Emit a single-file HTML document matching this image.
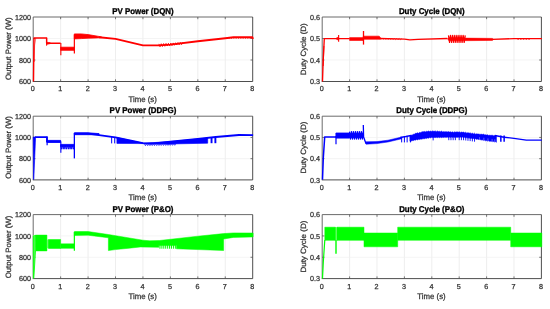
<!DOCTYPE html>
<html lang="en"><head><meta charset="utf-8"><title>PV Power and Duty Cycle</title>
<style>
html,body{margin:0;padding:0;background:#fff;}
body{width:550px;height:309px;overflow:hidden;font-family:"Liberation Sans",Arial,sans-serif;}
svg{display:block;}
</style></head><body>
<svg width="550" height="309" viewBox="0 0 550 309" font-family="Liberation Sans, Arial, Helvetica, sans-serif" text-rendering="geometricPrecision">
<g>
<line x1="60.64" y1="17" x2="60.64" y2="81.5" stroke="#e6e6e6" stroke-width="0.7"/>
<line x1="88.08" y1="17" x2="88.08" y2="81.5" stroke="#e6e6e6" stroke-width="0.7"/>
<line x1="115.51" y1="17" x2="115.51" y2="81.5" stroke="#e6e6e6" stroke-width="0.7"/>
<line x1="142.95" y1="17" x2="142.95" y2="81.5" stroke="#e6e6e6" stroke-width="0.7"/>
<line x1="170.39" y1="17" x2="170.39" y2="81.5" stroke="#e6e6e6" stroke-width="0.7"/>
<line x1="197.82" y1="17" x2="197.82" y2="81.5" stroke="#e6e6e6" stroke-width="0.7"/>
<line x1="225.26" y1="17" x2="225.26" y2="81.5" stroke="#e6e6e6" stroke-width="0.7"/>
<line x1="33.2" y1="60" x2="252.7" y2="60" stroke="#efefef" stroke-width="0.7"/>
<line x1="33.2" y1="38.5" x2="252.7" y2="38.5" stroke="#efefef" stroke-width="0.7"/>
<path d="M33.2 81.5V17H252.7" fill="none" stroke="#5a5a5a" stroke-width="0.9"/>
<path d="M32.8 81.5H252.7V17" fill="none" stroke="#3a3a3a" stroke-width="0.9"/>
<line x1="60.64" y1="81.5" x2="60.64" y2="79.3" stroke="#555" stroke-width="0.8"/>
<line x1="60.64" y1="17" x2="60.64" y2="19.2" stroke="#555" stroke-width="0.8"/>
<line x1="88.08" y1="81.5" x2="88.08" y2="79.3" stroke="#555" stroke-width="0.8"/>
<line x1="88.08" y1="17" x2="88.08" y2="19.2" stroke="#555" stroke-width="0.8"/>
<line x1="115.51" y1="81.5" x2="115.51" y2="79.3" stroke="#555" stroke-width="0.8"/>
<line x1="115.51" y1="17" x2="115.51" y2="19.2" stroke="#555" stroke-width="0.8"/>
<line x1="142.95" y1="81.5" x2="142.95" y2="79.3" stroke="#555" stroke-width="0.8"/>
<line x1="142.95" y1="17" x2="142.95" y2="19.2" stroke="#555" stroke-width="0.8"/>
<line x1="170.39" y1="81.5" x2="170.39" y2="79.3" stroke="#555" stroke-width="0.8"/>
<line x1="170.39" y1="17" x2="170.39" y2="19.2" stroke="#555" stroke-width="0.8"/>
<line x1="197.82" y1="81.5" x2="197.82" y2="79.3" stroke="#555" stroke-width="0.8"/>
<line x1="197.82" y1="17" x2="197.82" y2="19.2" stroke="#555" stroke-width="0.8"/>
<line x1="225.26" y1="81.5" x2="225.26" y2="79.3" stroke="#555" stroke-width="0.8"/>
<line x1="225.26" y1="17" x2="225.26" y2="19.2" stroke="#555" stroke-width="0.8"/>
<line x1="33.2" y1="60" x2="35.4" y2="60" stroke="#555" stroke-width="0.8"/>
<line x1="252.7" y1="60" x2="250.5" y2="60" stroke="#555" stroke-width="0.8"/>
<line x1="33.2" y1="38.5" x2="35.4" y2="38.5" stroke="#555" stroke-width="0.8"/>
<line x1="252.7" y1="38.5" x2="250.5" y2="38.5" stroke="#555" stroke-width="0.8"/>
<polyline points="33.5,81.5 34,38 46.62,38 46.62,43.2 60.64,43.2" fill="none" stroke="#ff0000" stroke-width="1.4" stroke-linejoin="round" stroke-linecap="butt"/>
<polygon points="46.72,42.2 50.21,42.6 50.21,43.8 46.72,44.4" fill="#ff0000" stroke="#ff0000" stroke-width="0.4" stroke-linejoin="round"/>
<polyline points="46.62,37.8 46.62,45.7" fill="none" stroke="#ff0000" stroke-width="1.0" stroke-linejoin="round" stroke-linecap="butt"/>
<polyline points="34.2,62 34.6,45 35.8,38.2" fill="none" stroke="#ff0000" stroke-width="0.6" stroke-linejoin="round" stroke-linecap="butt"/>
<polygon points="60.64,47.2 74.36,47.2 74.36,50.3 60.64,50.3" fill="#ff0000" stroke="#ff0000" stroke-width="0.8" stroke-linejoin="round"/>
<polyline points="60.84,43.1 60.84,55.2" fill="none" stroke="#ff0000" stroke-width="1.1" stroke-linejoin="round" stroke-linecap="butt"/>
<polyline points="74.36,53.6 74.36,34.5" fill="none" stroke="#ff0000" stroke-width="1.2" stroke-linejoin="round" stroke-linecap="butt"/>
<polygon points="74.36,33.9 81.22,33.9 88.08,34.6 97.68,36.2 101.79,37 101.79,37.6 97.68,37.9 88.08,38.2 81.22,38.6 74.36,38.9" fill="#ff0000" stroke="#ff0000" stroke-width="0.8" stroke-linejoin="round"/>
<polyline points="99.05,37.2 115.51,38.9 142.95,45.4 158.86,45.4 170.39,44.6 197.82,41.2 225.26,38.2 233.49,37.2 252.4,37.3 252.9,39" fill="none" stroke="#ff0000" stroke-width="1.9" stroke-linejoin="round" stroke-linecap="butt"/>
<polyline points="158.86,43.9 160.06,46.77 161.25,43.74 162.44,46.52 163.64,43.58 164.83,46.27 166.02,43.42 167.22,46.02 168.41,43.26 169.61,45.77 170.8,43.1 171.99,45.52 173.19,42.94 174.38,45.27 175.57,42.78 176.77,45.02 177.96,42.62 179.15,44.77 180.35,42.46 181.54,44.52 182.73,42.3" fill="none" stroke="#ff0000" stroke-width="0.9" stroke-linejoin="round"/>
<polyline points="228.01,37 229.17,38.6 230.34,37 231.5,38.6 232.67,37 233.84,38.6 235,37 236.17,38.6 237.33,37 238.5,38.6 239.67,37 240.83,38.6 242,37 243.17,38.6 244.33,37 245.5,38.6 246.66,37 247.83,38.6 249,37 250.16,38.6 251.33,37" fill="none" stroke="#ff0000" stroke-width="0.6" stroke-linejoin="round"/>
<text transform="translate(32.8,91.4) scale(1,1.0)" text-anchor="middle" font-size="7.2" fill="#333" stroke="#333" stroke-width="0.25">0</text>
<text transform="translate(60.24,91.4) scale(1,1.0)" text-anchor="middle" font-size="7.2" fill="#333" stroke="#333" stroke-width="0.25">1</text>
<text transform="translate(87.67,91.4) scale(1,1.0)" text-anchor="middle" font-size="7.2" fill="#333" stroke="#333" stroke-width="0.25">2</text>
<text transform="translate(115.11,91.4) scale(1,1.0)" text-anchor="middle" font-size="7.2" fill="#333" stroke="#333" stroke-width="0.25">3</text>
<text transform="translate(142.55,91.4) scale(1,1.0)" text-anchor="middle" font-size="7.2" fill="#333" stroke="#333" stroke-width="0.25">4</text>
<text transform="translate(169.99,91.4) scale(1,1.0)" text-anchor="middle" font-size="7.2" fill="#333" stroke="#333" stroke-width="0.25">5</text>
<text transform="translate(197.42,91.4) scale(1,1.0)" text-anchor="middle" font-size="7.2" fill="#333" stroke="#333" stroke-width="0.25">6</text>
<text transform="translate(224.86,91.4) scale(1,1.0)" text-anchor="middle" font-size="7.2" fill="#333" stroke="#333" stroke-width="0.25">7</text>
<text transform="translate(252.3,91.4) scale(1,1.0)" text-anchor="middle" font-size="7.2" fill="#333" stroke="#333" stroke-width="0.25">8</text>
<text transform="translate(31,84.1) scale(1,1.0)" text-anchor="end" font-size="7.2" fill="#333" stroke="#333" stroke-width="0.25">600</text>
<text transform="translate(31,62.6) scale(1,1.0)" text-anchor="end" font-size="7.2" fill="#333" stroke="#333" stroke-width="0.25">800</text>
<text transform="translate(31,41.1) scale(1,1.0)" text-anchor="end" font-size="7.2" fill="#333" stroke="#333" stroke-width="0.25">1000</text>
<text transform="translate(31,19.6) scale(1,1.0)" text-anchor="end" font-size="7.2" fill="#333" stroke="#333" stroke-width="0.25">1200</text>
<text transform="translate(142.65,101.95) scale(1,1.03)" text-anchor="middle" font-size="7.8" fill="#333" stroke="#333" stroke-width="0.25">Time (s)</text>
<text transform="translate(142.95,13.9) scale(1,1.07)" text-anchor="middle" font-size="7.9" font-weight="bold" fill="#000" stroke="#000" stroke-width="0.3">PV Power (DQN)</text>
<text transform="translate(10.9,48.65) scale(1,1.02) rotate(-90)" text-anchor="middle" font-size="7.7" fill="#333" stroke="#333" stroke-width="0.25">Output Power (W)</text>
</g>
<g>
<line x1="349.6" y1="17" x2="349.6" y2="81.5" stroke="#e6e6e6" stroke-width="0.7"/>
<line x1="377" y1="17" x2="377" y2="81.5" stroke="#e6e6e6" stroke-width="0.7"/>
<line x1="404.4" y1="17" x2="404.4" y2="81.5" stroke="#e6e6e6" stroke-width="0.7"/>
<line x1="431.8" y1="17" x2="431.8" y2="81.5" stroke="#e6e6e6" stroke-width="0.7"/>
<line x1="459.2" y1="17" x2="459.2" y2="81.5" stroke="#e6e6e6" stroke-width="0.7"/>
<line x1="486.6" y1="17" x2="486.6" y2="81.5" stroke="#e6e6e6" stroke-width="0.7"/>
<line x1="514" y1="17" x2="514" y2="81.5" stroke="#e6e6e6" stroke-width="0.7"/>
<line x1="322.2" y1="60" x2="541.4" y2="60" stroke="#efefef" stroke-width="0.7"/>
<line x1="322.2" y1="38.5" x2="541.4" y2="38.5" stroke="#efefef" stroke-width="0.7"/>
<path d="M322.2 81.5V17H541.4" fill="none" stroke="#5a5a5a" stroke-width="0.9"/>
<path d="M321.8 81.5H541.4V17" fill="none" stroke="#3a3a3a" stroke-width="0.9"/>
<line x1="349.6" y1="81.5" x2="349.6" y2="79.3" stroke="#555" stroke-width="0.8"/>
<line x1="349.6" y1="17" x2="349.6" y2="19.2" stroke="#555" stroke-width="0.8"/>
<line x1="377" y1="81.5" x2="377" y2="79.3" stroke="#555" stroke-width="0.8"/>
<line x1="377" y1="17" x2="377" y2="19.2" stroke="#555" stroke-width="0.8"/>
<line x1="404.4" y1="81.5" x2="404.4" y2="79.3" stroke="#555" stroke-width="0.8"/>
<line x1="404.4" y1="17" x2="404.4" y2="19.2" stroke="#555" stroke-width="0.8"/>
<line x1="431.8" y1="81.5" x2="431.8" y2="79.3" stroke="#555" stroke-width="0.8"/>
<line x1="431.8" y1="17" x2="431.8" y2="19.2" stroke="#555" stroke-width="0.8"/>
<line x1="459.2" y1="81.5" x2="459.2" y2="79.3" stroke="#555" stroke-width="0.8"/>
<line x1="459.2" y1="17" x2="459.2" y2="19.2" stroke="#555" stroke-width="0.8"/>
<line x1="486.6" y1="81.5" x2="486.6" y2="79.3" stroke="#555" stroke-width="0.8"/>
<line x1="486.6" y1="17" x2="486.6" y2="19.2" stroke="#555" stroke-width="0.8"/>
<line x1="514" y1="81.5" x2="514" y2="79.3" stroke="#555" stroke-width="0.8"/>
<line x1="514" y1="17" x2="514" y2="19.2" stroke="#555" stroke-width="0.8"/>
<line x1="322.2" y1="60" x2="324.4" y2="60" stroke="#555" stroke-width="0.8"/>
<line x1="541.4" y1="60" x2="539.2" y2="60" stroke="#555" stroke-width="0.8"/>
<line x1="322.2" y1="38.5" x2="324.4" y2="38.5" stroke="#555" stroke-width="0.8"/>
<line x1="541.4" y1="38.5" x2="539.2" y2="38.5" stroke="#555" stroke-width="0.8"/>
<polyline points="322.5,81.5 323.2,60 324.3,38.6 349.6,38.6" fill="none" stroke="#ff0000" stroke-width="1.35" stroke-linejoin="round" stroke-linecap="butt"/>
<polyline points="323.2,66 323.9,46" fill="none" stroke="#ff0000" stroke-width="0.9" stroke-linejoin="round" stroke-linecap="butt"/>
<polyline points="338.64,34.9 338.64,41.7" fill="none" stroke="#ff0000" stroke-width="1.1" stroke-linejoin="round" stroke-linecap="butt"/>
<polygon points="336.72,37.6 338.64,37.2 338.64,40 336.72,39.6" fill="#ff0000" stroke="#ff0000" stroke-width="0.5" stroke-linejoin="round"/>
<polygon points="349.6,37.6 363.3,37.6 363.3,40.5 349.6,40.5" fill="#ff0000" stroke="#ff0000" stroke-width="0.6" stroke-linejoin="round"/>
<polyline points="363.5,31 363.5,44.6" fill="none" stroke="#ff0000" stroke-width="1.3" stroke-linejoin="round" stroke-linecap="butt"/>
<polygon points="363.3,36.2 379.19,36.2 380.29,37.6 380.29,39.2 379.19,39.2 363.3,39.2" fill="#ff0000" stroke="#ff0000" stroke-width="0.7" stroke-linejoin="round"/>
<polyline points="379.74,38.5 404.4,39.2 409.88,39.8 418.1,39.4 447.42,38.5" fill="none" stroke="#ff0000" stroke-width="1.3" stroke-linejoin="round" stroke-linecap="butt"/>
<polyline points="379.74,38 380.96,39.33 382.18,38.07 383.39,39.38 384.61,38.13 385.83,39.44 387.05,38.2 388.26,39.49 389.48,38.27 390.7,39.55 391.92,38.33 393.14,39.61 394.35,38.4 395.57,39.66 396.79,38.47 398.01,39.72 399.22,38.53 400.44,39.77 401.66,38.6" fill="none" stroke="#ff0000" stroke-width="0.6" stroke-linejoin="round"/>
<polyline points="448.51,35.3 449.56,42.3 450.6,35.3 451.65,42.3 452.69,35.3 453.74,42.3 454.78,35.3 455.83,42.3 456.87,35.3 457.92,42.3 458.96,35.3 460,42.3 461.05,35.3 462.09,42.3 463.14,35.3 464.18,42.3 465.23,35.3" fill="none" stroke="#ff0000" stroke-width="1.3" stroke-linejoin="round"/>
<polygon points="448.51,37.9 465.23,37.9 465.23,40.4 448.51,40.4" fill="#ff0000" stroke="#ff0000" stroke-width="0.4" stroke-linejoin="round"/>
<polygon points="465.23,38.1 492.63,38.4 492.63,40.4 465.23,40.7" fill="#ff0000" stroke="#ff0000" stroke-width="0.5" stroke-linejoin="round"/>
<polyline points="447.42,38.8 492.63,39.4 514,38.6 541.8,38.6" fill="none" stroke="#ff0000" stroke-width="1.3" stroke-linejoin="round" stroke-linecap="butt"/>
<polyline points="516.74,38.3 518.11,39.8 519.48,38.3 520.85,39.8 522.22,38.3 523.59,39.8 524.96,38.3 526.33,39.8 527.7,38.3 529.07,39.8 530.44,38.3" fill="none" stroke="#ff0000" stroke-width="0.6" stroke-linejoin="round"/>
<text transform="translate(321.8,91.4) scale(1,1.0)" text-anchor="middle" font-size="7.2" fill="#333" stroke="#333" stroke-width="0.25">0</text>
<text transform="translate(349.2,91.4) scale(1,1.0)" text-anchor="middle" font-size="7.2" fill="#333" stroke="#333" stroke-width="0.25">1</text>
<text transform="translate(376.6,91.4) scale(1,1.0)" text-anchor="middle" font-size="7.2" fill="#333" stroke="#333" stroke-width="0.25">2</text>
<text transform="translate(404,91.4) scale(1,1.0)" text-anchor="middle" font-size="7.2" fill="#333" stroke="#333" stroke-width="0.25">3</text>
<text transform="translate(431.4,91.4) scale(1,1.0)" text-anchor="middle" font-size="7.2" fill="#333" stroke="#333" stroke-width="0.25">4</text>
<text transform="translate(458.8,91.4) scale(1,1.0)" text-anchor="middle" font-size="7.2" fill="#333" stroke="#333" stroke-width="0.25">5</text>
<text transform="translate(486.2,91.4) scale(1,1.0)" text-anchor="middle" font-size="7.2" fill="#333" stroke="#333" stroke-width="0.25">6</text>
<text transform="translate(513.6,91.4) scale(1,1.0)" text-anchor="middle" font-size="7.2" fill="#333" stroke="#333" stroke-width="0.25">7</text>
<text transform="translate(541,91.4) scale(1,1.0)" text-anchor="middle" font-size="7.2" fill="#333" stroke="#333" stroke-width="0.25">8</text>
<text transform="translate(320,84.1) scale(1,1.0)" text-anchor="end" font-size="7.2" fill="#333" stroke="#333" stroke-width="0.25">0.3</text>
<text transform="translate(320,62.6) scale(1,1.0)" text-anchor="end" font-size="7.2" fill="#333" stroke="#333" stroke-width="0.25">0.4</text>
<text transform="translate(320,41.1) scale(1,1.0)" text-anchor="end" font-size="7.2" fill="#333" stroke="#333" stroke-width="0.25">0.5</text>
<text transform="translate(320,19.6) scale(1,1.0)" text-anchor="end" font-size="7.2" fill="#333" stroke="#333" stroke-width="0.25">0.6</text>
<text transform="translate(431.5,101.95) scale(1,1.03)" text-anchor="middle" font-size="7.8" fill="#333" stroke="#333" stroke-width="0.25">Time (s)</text>
<text transform="translate(431.8,13.9) scale(1,1.07)" text-anchor="middle" font-size="7.9" font-weight="bold" fill="#000" stroke="#000" stroke-width="0.3">Duty Cycle (DQN)</text>
<text transform="translate(306.1,49.25) scale(1,1.04) rotate(-90)" text-anchor="middle" font-size="7.7" fill="#333" stroke="#333" stroke-width="0.25">Duty Cycle (D)</text>
</g>
<g>
<line x1="60.64" y1="116.2" x2="60.64" y2="179.9" stroke="#e6e6e6" stroke-width="0.7"/>
<line x1="88.08" y1="116.2" x2="88.08" y2="179.9" stroke="#e6e6e6" stroke-width="0.7"/>
<line x1="115.51" y1="116.2" x2="115.51" y2="179.9" stroke="#e6e6e6" stroke-width="0.7"/>
<line x1="142.95" y1="116.2" x2="142.95" y2="179.9" stroke="#e6e6e6" stroke-width="0.7"/>
<line x1="170.39" y1="116.2" x2="170.39" y2="179.9" stroke="#e6e6e6" stroke-width="0.7"/>
<line x1="197.82" y1="116.2" x2="197.82" y2="179.9" stroke="#e6e6e6" stroke-width="0.7"/>
<line x1="225.26" y1="116.2" x2="225.26" y2="179.9" stroke="#e6e6e6" stroke-width="0.7"/>
<line x1="33.2" y1="158.67" x2="252.7" y2="158.67" stroke="#efefef" stroke-width="0.7"/>
<line x1="33.2" y1="137.43" x2="252.7" y2="137.43" stroke="#efefef" stroke-width="0.7"/>
<path d="M33.2 179.9V116.2H252.7" fill="none" stroke="#5a5a5a" stroke-width="0.9"/>
<path d="M32.8 179.9H252.7V116.2" fill="none" stroke="#3a3a3a" stroke-width="0.9"/>
<line x1="60.64" y1="179.9" x2="60.64" y2="177.7" stroke="#555" stroke-width="0.8"/>
<line x1="60.64" y1="116.2" x2="60.64" y2="118.4" stroke="#555" stroke-width="0.8"/>
<line x1="88.08" y1="179.9" x2="88.08" y2="177.7" stroke="#555" stroke-width="0.8"/>
<line x1="88.08" y1="116.2" x2="88.08" y2="118.4" stroke="#555" stroke-width="0.8"/>
<line x1="115.51" y1="179.9" x2="115.51" y2="177.7" stroke="#555" stroke-width="0.8"/>
<line x1="115.51" y1="116.2" x2="115.51" y2="118.4" stroke="#555" stroke-width="0.8"/>
<line x1="142.95" y1="179.9" x2="142.95" y2="177.7" stroke="#555" stroke-width="0.8"/>
<line x1="142.95" y1="116.2" x2="142.95" y2="118.4" stroke="#555" stroke-width="0.8"/>
<line x1="170.39" y1="179.9" x2="170.39" y2="177.7" stroke="#555" stroke-width="0.8"/>
<line x1="170.39" y1="116.2" x2="170.39" y2="118.4" stroke="#555" stroke-width="0.8"/>
<line x1="197.82" y1="179.9" x2="197.82" y2="177.7" stroke="#555" stroke-width="0.8"/>
<line x1="197.82" y1="116.2" x2="197.82" y2="118.4" stroke="#555" stroke-width="0.8"/>
<line x1="225.26" y1="179.9" x2="225.26" y2="177.7" stroke="#555" stroke-width="0.8"/>
<line x1="225.26" y1="116.2" x2="225.26" y2="118.4" stroke="#555" stroke-width="0.8"/>
<line x1="33.2" y1="158.67" x2="35.4" y2="158.67" stroke="#555" stroke-width="0.8"/>
<line x1="252.7" y1="158.67" x2="250.5" y2="158.67" stroke="#555" stroke-width="0.8"/>
<line x1="33.2" y1="137.43" x2="35.4" y2="137.43" stroke="#555" stroke-width="0.8"/>
<line x1="252.7" y1="137.43" x2="250.5" y2="137.43" stroke="#555" stroke-width="0.8"/>
<polyline points="35,137.2 46.92,137.2 46.92,141.5 60.64,141.5" fill="none" stroke="#0000ff" stroke-width="1.7" stroke-linejoin="round" stroke-linecap="butt"/>
<polygon points="33.2,137 35.6,137 33.8,179.4 33.6,179.4" fill="#0000ff" stroke="#0000ff" stroke-width="0.6" stroke-linejoin="round"/>
<polygon points="46.92,140.4 60.64,140.4 60.64,142.5 46.92,142.5" fill="#0000ff" stroke="#0000ff" stroke-width="0.8" stroke-linejoin="round"/>
<polyline points="47.12,136.5 47.12,145.3" fill="none" stroke="#0000ff" stroke-width="1.2" stroke-linejoin="round" stroke-linecap="butt"/>
<polygon points="60.64,144.4 74.36,144.4 74.36,146.6 60.64,146.6" fill="#0000ff" stroke="#0000ff" stroke-width="0.8" stroke-linejoin="round"/>
<polyline points="60.64,145 61.49,149.2 62.35,145 63.21,149.2 64.07,145 64.92,149.2 65.78,145 66.64,149.2 67.5,145 68.35,149.2 69.21,145 70.07,149.2 70.93,145 71.78,149.2 72.64,145 73.5,149.2 74.36,145" fill="none" stroke="#0000ff" stroke-width="0.9" stroke-linejoin="round"/>
<polyline points="60.84,141.5 60.84,152.8" fill="none" stroke="#0000ff" stroke-width="1.1" stroke-linejoin="round" stroke-linecap="butt"/>
<polyline points="74.36,158.4 74.36,133" fill="none" stroke="#0000ff" stroke-width="1.3" stroke-linejoin="round" stroke-linecap="butt"/>
<polygon points="74.36,132.8 88.08,132.8 99.05,133.6 99.05,134.8 88.08,134.7 74.36,134.7" fill="#0000ff" stroke="#0000ff" stroke-width="0.8" stroke-linejoin="round"/>
<polyline points="74.36,133.6 88.08,133.6 115.51,137.3 142.95,143.2 153.93,143.4 170.39,141.6 197.82,138.9 215.66,137 238.98,135 253.1,135.2" fill="none" stroke="#0000ff" stroke-width="1.8" stroke-linejoin="round" stroke-linecap="butt"/>
<polyline points="111.67,137 111.67,143.4" fill="none" stroke="#0000ff" stroke-width="1.0" stroke-linejoin="round" stroke-linecap="butt"/>
<polyline points="114.69,137 114.69,143.4" fill="none" stroke="#0000ff" stroke-width="1.0" stroke-linejoin="round" stroke-linecap="butt"/>
<polygon points="116.88,137.6 142.95,143.2 142.95,143.6 116.88,143.4" fill="#0000ff" stroke="#0000ff" stroke-width="0.6" stroke-linejoin="round"/>
<polygon points="142.95,143.2 170.39,141.6 207.7,138 207.7,143.2 170.39,144 142.95,143.8" fill="#0000ff" stroke="#0000ff" stroke-width="0.6" stroke-linejoin="round"/>
<polyline points="144.32,143.6 145.45,145.69 146.58,143.6 147.7,145.66 148.83,143.6 149.96,145.63 151.08,143.6 152.21,145.6 153.34,143.6 154.46,145.57 155.59,143.6 156.72,145.54 157.84,143.6 158.97,145.51 160.1,143.6 161.23,145.49 162.35,143.6 163.48,145.46 164.61,143.6 165.73,145.43 166.86,143.6 167.99,145.4 169.11,143.6 170.24,145.37 171.37,143.6 172.49,145.34 173.62,143.6 174.75,145.31 175.88,143.6" fill="none" stroke="#0000ff" stroke-width="0.7" stroke-linejoin="round"/>
<polyline points="211.54,137.6 211.54,143.2" fill="none" stroke="#0000ff" stroke-width="1.9" stroke-linejoin="round" stroke-linecap="butt"/>
<polyline points="215.38,137.6 215.38,143.2" fill="none" stroke="#0000ff" stroke-width="1.9" stroke-linejoin="round" stroke-linecap="butt"/>
<text transform="translate(32.8,189.8) scale(1,1.0)" text-anchor="middle" font-size="7.2" fill="#333" stroke="#333" stroke-width="0.25">0</text>
<text transform="translate(60.24,189.8) scale(1,1.0)" text-anchor="middle" font-size="7.2" fill="#333" stroke="#333" stroke-width="0.25">1</text>
<text transform="translate(87.67,189.8) scale(1,1.0)" text-anchor="middle" font-size="7.2" fill="#333" stroke="#333" stroke-width="0.25">2</text>
<text transform="translate(115.11,189.8) scale(1,1.0)" text-anchor="middle" font-size="7.2" fill="#333" stroke="#333" stroke-width="0.25">3</text>
<text transform="translate(142.55,189.8) scale(1,1.0)" text-anchor="middle" font-size="7.2" fill="#333" stroke="#333" stroke-width="0.25">4</text>
<text transform="translate(169.99,189.8) scale(1,1.0)" text-anchor="middle" font-size="7.2" fill="#333" stroke="#333" stroke-width="0.25">5</text>
<text transform="translate(197.42,189.8) scale(1,1.0)" text-anchor="middle" font-size="7.2" fill="#333" stroke="#333" stroke-width="0.25">6</text>
<text transform="translate(224.86,189.8) scale(1,1.0)" text-anchor="middle" font-size="7.2" fill="#333" stroke="#333" stroke-width="0.25">7</text>
<text transform="translate(252.3,189.8) scale(1,1.0)" text-anchor="middle" font-size="7.2" fill="#333" stroke="#333" stroke-width="0.25">8</text>
<text transform="translate(31,182.5) scale(1,1.0)" text-anchor="end" font-size="7.2" fill="#333" stroke="#333" stroke-width="0.25">600</text>
<text transform="translate(31,161.27) scale(1,1.0)" text-anchor="end" font-size="7.2" fill="#333" stroke="#333" stroke-width="0.25">800</text>
<text transform="translate(31,140.03) scale(1,1.0)" text-anchor="end" font-size="7.2" fill="#333" stroke="#333" stroke-width="0.25">1000</text>
<text transform="translate(31,118.8) scale(1,1.0)" text-anchor="end" font-size="7.2" fill="#333" stroke="#333" stroke-width="0.25">1200</text>
<text transform="translate(142.65,200.35) scale(1,1.03)" text-anchor="middle" font-size="7.8" fill="#333" stroke="#333" stroke-width="0.25">Time (s)</text>
<text transform="translate(142.95,113.1) scale(1,1.07)" text-anchor="middle" font-size="7.9" font-weight="bold" fill="#000" stroke="#000" stroke-width="0.3">PV Power (DDPG)</text>
<text transform="translate(10.9,147.45) scale(1,1.02) rotate(-90)" text-anchor="middle" font-size="7.7" fill="#333" stroke="#333" stroke-width="0.25">Output Power (W)</text>
</g>
<g>
<line x1="349.6" y1="116.2" x2="349.6" y2="179.9" stroke="#e6e6e6" stroke-width="0.7"/>
<line x1="377" y1="116.2" x2="377" y2="179.9" stroke="#e6e6e6" stroke-width="0.7"/>
<line x1="404.4" y1="116.2" x2="404.4" y2="179.9" stroke="#e6e6e6" stroke-width="0.7"/>
<line x1="431.8" y1="116.2" x2="431.8" y2="179.9" stroke="#e6e6e6" stroke-width="0.7"/>
<line x1="459.2" y1="116.2" x2="459.2" y2="179.9" stroke="#e6e6e6" stroke-width="0.7"/>
<line x1="486.6" y1="116.2" x2="486.6" y2="179.9" stroke="#e6e6e6" stroke-width="0.7"/>
<line x1="514" y1="116.2" x2="514" y2="179.9" stroke="#e6e6e6" stroke-width="0.7"/>
<line x1="322.2" y1="158.67" x2="541.4" y2="158.67" stroke="#efefef" stroke-width="0.7"/>
<line x1="322.2" y1="137.43" x2="541.4" y2="137.43" stroke="#efefef" stroke-width="0.7"/>
<path d="M322.2 179.9V116.2H541.4" fill="none" stroke="#5a5a5a" stroke-width="0.9"/>
<path d="M321.8 179.9H541.4V116.2" fill="none" stroke="#3a3a3a" stroke-width="0.9"/>
<line x1="349.6" y1="179.9" x2="349.6" y2="177.7" stroke="#555" stroke-width="0.8"/>
<line x1="349.6" y1="116.2" x2="349.6" y2="118.4" stroke="#555" stroke-width="0.8"/>
<line x1="377" y1="179.9" x2="377" y2="177.7" stroke="#555" stroke-width="0.8"/>
<line x1="377" y1="116.2" x2="377" y2="118.4" stroke="#555" stroke-width="0.8"/>
<line x1="404.4" y1="179.9" x2="404.4" y2="177.7" stroke="#555" stroke-width="0.8"/>
<line x1="404.4" y1="116.2" x2="404.4" y2="118.4" stroke="#555" stroke-width="0.8"/>
<line x1="431.8" y1="179.9" x2="431.8" y2="177.7" stroke="#555" stroke-width="0.8"/>
<line x1="431.8" y1="116.2" x2="431.8" y2="118.4" stroke="#555" stroke-width="0.8"/>
<line x1="459.2" y1="179.9" x2="459.2" y2="177.7" stroke="#555" stroke-width="0.8"/>
<line x1="459.2" y1="116.2" x2="459.2" y2="118.4" stroke="#555" stroke-width="0.8"/>
<line x1="486.6" y1="179.9" x2="486.6" y2="177.7" stroke="#555" stroke-width="0.8"/>
<line x1="486.6" y1="116.2" x2="486.6" y2="118.4" stroke="#555" stroke-width="0.8"/>
<line x1="514" y1="179.9" x2="514" y2="177.7" stroke="#555" stroke-width="0.8"/>
<line x1="514" y1="116.2" x2="514" y2="118.4" stroke="#555" stroke-width="0.8"/>
<line x1="322.2" y1="158.67" x2="324.4" y2="158.67" stroke="#555" stroke-width="0.8"/>
<line x1="541.4" y1="158.67" x2="539.2" y2="158.67" stroke="#555" stroke-width="0.8"/>
<line x1="322.2" y1="137.43" x2="324.4" y2="137.43" stroke="#555" stroke-width="0.8"/>
<line x1="541.4" y1="137.43" x2="539.2" y2="137.43" stroke="#555" stroke-width="0.8"/>
<polyline points="322.5,179.6 323.3,158 324.7,136.9 335.9,136.9" fill="none" stroke="#0000ff" stroke-width="1.5" stroke-linejoin="round" stroke-linecap="butt"/>
<polyline points="336,136 336,144.2" fill="none" stroke="#0000ff" stroke-width="1.2" stroke-linejoin="round" stroke-linecap="butt"/>
<polygon points="335.9,133 349.6,133 349.6,138.1 335.9,138.1" fill="#0000ff" stroke="#0000ff" stroke-width="0.8" stroke-linejoin="round"/>
<polygon points="349.6,133.6 363.3,133.6 363.3,137.6 349.6,137.6" fill="#0000ff" stroke="#0000ff" stroke-width="0.8" stroke-linejoin="round"/>
<polyline points="349.6,131.6 350.58,139 351.56,131.6 352.54,139 353.51,131.6 354.49,139 355.47,131.6 356.45,139 357.43,131.6 358.41,139 359.39,131.6 360.36,139 361.34,131.6 362.32,139 363.3,131.6" fill="none" stroke="#0000ff" stroke-width="1.3" stroke-linejoin="round"/>
<polyline points="363.3,125.1 363.6,137 366.04,143.7" fill="none" stroke="#0000ff" stroke-width="1.3" stroke-linejoin="round" stroke-linecap="butt"/>
<polygon points="366.04,141.8 377,141.6 387.96,140.2 401.66,137 401.66,138.8 387.96,142 377,143.6 366.04,144.2" fill="#0000ff" stroke="#0000ff" stroke-width="0.5" stroke-linejoin="round"/>
<polyline points="400.29,137.4 405.77,136.6 411.25,135.4" fill="none" stroke="#0000ff" stroke-width="1.5" stroke-linejoin="round" stroke-linecap="butt"/>
<polyline points="401.66,137 401.66,142.4" fill="none" stroke="#0000ff" stroke-width="1.0" stroke-linejoin="round" stroke-linecap="butt"/>
<polyline points="404.4,137 404.4,142.4" fill="none" stroke="#0000ff" stroke-width="1.0" stroke-linejoin="round" stroke-linecap="butt"/>
<polyline points="407.14,137 407.14,142.4" fill="none" stroke="#0000ff" stroke-width="1.0" stroke-linejoin="round" stroke-linecap="butt"/>
<polyline points="410.43,137 410.43,142.4" fill="none" stroke="#0000ff" stroke-width="1.0" stroke-linejoin="round" stroke-linecap="butt"/>
<polygon points="409.88,136.05 410.98,135.06 412.07,135.24 413.17,134.26 414.26,134.34 415.36,133.37 416.46,133.37 417.55,132.71 418.65,133.26 419.74,132.3 420.84,132.76 421.94,131.61 423.03,132.11 424.13,131.26 425.22,131.9 426.32,131.23 427.42,131.53 428.51,130.93 429.61,131.47 430.7,131.05 431.8,131.51 432.9,130.71 433.99,131.61 435.09,130.8 436.18,131.64 437.28,130.89 438.38,131.49 439.47,131.28 440.57,131.67 441.66,131.12 442.76,132.07 443.86,131.48 444.95,131.89 446.05,131.6 447.14,132.07 448.24,131.56 449.34,132.01 450.43,131.74 451.53,132.28 452.62,131.83 453.72,132.43 454.82,131.63 455.91,132.3 457.01,131.65 458.1,132.28 459.2,131.69 460.3,132.42 461.39,131.98 462.49,132.37 463.58,132.1 464.68,132.7 465.78,132.22 466.87,133.15 467.97,132.55 469.06,133.21 470.16,132.81 471.26,133.63 472.35,132.9 473.45,134 474.54,133.15 475.64,134.17 476.74,133.74 477.83,134.12 478.93,133.94 480.02,134.48 481.12,134.08 482.22,134.56 483.31,134.09 484.41,134.85 485.5,134.67 486.6,135.08 487.7,134.8 488.79,135.57 489.89,135.08 490.98,135.54 492.08,135.04 493.18,135.81 494.27,135.41 495.37,135.84 496.46,135.6 496.46,142.3 495.37,141.66 494.27,142.01 493.18,141.37 492.08,141.72 490.98,141.08 489.89,141.43 488.79,140.79 487.7,141.14 486.6,140.5 485.5,140.82 484.41,140.14 483.31,140.47 482.22,139.79 481.12,140.11 480.02,139.43 478.93,139.76 477.83,139.08 476.74,139.4 475.64,138.75 474.54,139.11 473.45,138.46 472.35,138.81 471.26,138.17 470.16,138.52 469.06,137.87 467.97,138.22 466.87,137.58 465.78,137.93 464.68,137.28 463.58,137.64 462.49,137.1 461.39,137.6 460.3,137.1 459.2,137.6 458.1,137.1 457.01,137.6 455.91,137.1 454.82,137.6 453.72,137.1 452.62,137.6 451.53,137.1 450.43,137.6 449.34,137.1 448.24,137.6 447.14,137.1 446.05,137.6 444.95,137.11 443.86,137.62 442.76,137.14 441.66,137.66 440.57,137.17 439.47,137.69 438.38,137.2 437.28,137.72 436.18,137.24 435.09,137.75 433.99,137.27 432.9,137.78 431.8,137.3 430.7,137.96 429.61,137.62 428.51,138.28 427.42,137.94 426.32,138.6 425.22,138.26 424.13,138.92 423.03,138.58 421.94,139.24 420.84,138.9 419.74,139.56 418.65,139.22 417.55,139.88 416.46,139.54 415.36,140.2 414.26,139.98 413.17,140.76 412.07,140.54 410.98,141.32 409.88,141.1" fill="#0000ff" stroke="#0000ff" stroke-width="0.5" stroke-linejoin="round"/>
<polyline points="433.17,136.78 433.17,140.38" fill="none" stroke="#0000ff" stroke-width="0.9" stroke-linejoin="round" stroke-linecap="butt"/>
<polyline points="448.79,136.6 448.79,140.2" fill="none" stroke="#0000ff" stroke-width="0.9" stroke-linejoin="round" stroke-linecap="butt"/>
<polyline points="450.98,136.6 450.98,140.2" fill="none" stroke="#0000ff" stroke-width="0.9" stroke-linejoin="round" stroke-linecap="butt"/>
<polyline points="453.17,136.6 453.17,140.2" fill="none" stroke="#0000ff" stroke-width="0.9" stroke-linejoin="round" stroke-linecap="butt"/>
<polyline points="455.36,136.6 455.36,140.2" fill="none" stroke="#0000ff" stroke-width="0.9" stroke-linejoin="round" stroke-linecap="butt"/>
<polyline points="459.2,136.6 459.2,140.2" fill="none" stroke="#0000ff" stroke-width="0.9" stroke-linejoin="round" stroke-linecap="butt"/>
<polyline points="461.39,136.6 461.39,140.2" fill="none" stroke="#0000ff" stroke-width="0.9" stroke-linejoin="round" stroke-linecap="butt"/>
<polyline points="463.58,136.64 463.58,140.24" fill="none" stroke="#0000ff" stroke-width="0.9" stroke-linejoin="round" stroke-linecap="butt"/>
<polyline points="465.78,136.93 465.78,140.53" fill="none" stroke="#0000ff" stroke-width="0.9" stroke-linejoin="round" stroke-linecap="butt"/>
<polyline points="467.97,137.22 467.97,140.82" fill="none" stroke="#0000ff" stroke-width="0.9" stroke-linejoin="round" stroke-linecap="butt"/>
<polyline points="470.16,137.52 470.16,141.12" fill="none" stroke="#0000ff" stroke-width="0.9" stroke-linejoin="round" stroke-linecap="butt"/>
<polyline points="472.35,137.81 472.35,141.41" fill="none" stroke="#0000ff" stroke-width="0.9" stroke-linejoin="round" stroke-linecap="butt"/>
<polyline points="474.54,138.11 474.54,141.71" fill="none" stroke="#0000ff" stroke-width="0.9" stroke-linejoin="round" stroke-linecap="butt"/>
<line x1="479.75" y1="140.39" x2="479.75" y2="137.09" stroke="#fff" stroke-width="0.5" opacity="0.75"/>
<line x1="483.86" y1="141.06" x2="483.86" y2="137.76" stroke="#fff" stroke-width="0.5" opacity="0.75"/>
<line x1="487.97" y1="141.68" x2="487.97" y2="138.38" stroke="#fff" stroke-width="0.5" opacity="0.75"/>
<line x1="492.08" y1="142.22" x2="492.08" y2="138.92" stroke="#fff" stroke-width="0.5" opacity="0.75"/>
<line x1="494.82" y1="142.58" x2="494.82" y2="139.28" stroke="#fff" stroke-width="0.5" opacity="0.75"/>
<polyline points="494.82,135.6 504.14,137.2" fill="none" stroke="#0000ff" stroke-width="1.5" stroke-linejoin="round" stroke-linecap="butt"/>
<polyline points="500.85,135.4 500.85,141.8" fill="none" stroke="#0000ff" stroke-width="1.5" stroke-linejoin="round" stroke-linecap="butt"/>
<polyline points="504.14,135.4 504.14,141.8" fill="none" stroke="#0000ff" stroke-width="1.5" stroke-linejoin="round" stroke-linecap="butt"/>
<polyline points="504.14,137.2 514,138.4 526.33,140.1 541.8,140.1" fill="none" stroke="#0000ff" stroke-width="1.4" stroke-linejoin="round" stroke-linecap="butt"/>
<text transform="translate(321.8,189.8) scale(1,1.0)" text-anchor="middle" font-size="7.2" fill="#333" stroke="#333" stroke-width="0.25">0</text>
<text transform="translate(349.2,189.8) scale(1,1.0)" text-anchor="middle" font-size="7.2" fill="#333" stroke="#333" stroke-width="0.25">1</text>
<text transform="translate(376.6,189.8) scale(1,1.0)" text-anchor="middle" font-size="7.2" fill="#333" stroke="#333" stroke-width="0.25">2</text>
<text transform="translate(404,189.8) scale(1,1.0)" text-anchor="middle" font-size="7.2" fill="#333" stroke="#333" stroke-width="0.25">3</text>
<text transform="translate(431.4,189.8) scale(1,1.0)" text-anchor="middle" font-size="7.2" fill="#333" stroke="#333" stroke-width="0.25">4</text>
<text transform="translate(458.8,189.8) scale(1,1.0)" text-anchor="middle" font-size="7.2" fill="#333" stroke="#333" stroke-width="0.25">5</text>
<text transform="translate(486.2,189.8) scale(1,1.0)" text-anchor="middle" font-size="7.2" fill="#333" stroke="#333" stroke-width="0.25">6</text>
<text transform="translate(513.6,189.8) scale(1,1.0)" text-anchor="middle" font-size="7.2" fill="#333" stroke="#333" stroke-width="0.25">7</text>
<text transform="translate(541,189.8) scale(1,1.0)" text-anchor="middle" font-size="7.2" fill="#333" stroke="#333" stroke-width="0.25">8</text>
<text transform="translate(320,182.5) scale(1,1.0)" text-anchor="end" font-size="7.2" fill="#333" stroke="#333" stroke-width="0.25">0.3</text>
<text transform="translate(320,161.27) scale(1,1.0)" text-anchor="end" font-size="7.2" fill="#333" stroke="#333" stroke-width="0.25">0.4</text>
<text transform="translate(320,140.03) scale(1,1.0)" text-anchor="end" font-size="7.2" fill="#333" stroke="#333" stroke-width="0.25">0.5</text>
<text transform="translate(320,118.8) scale(1,1.0)" text-anchor="end" font-size="7.2" fill="#333" stroke="#333" stroke-width="0.25">0.6</text>
<text transform="translate(431.5,200.35) scale(1,1.03)" text-anchor="middle" font-size="7.8" fill="#333" stroke="#333" stroke-width="0.25">Time (s)</text>
<text transform="translate(431.8,113.1) scale(1,1.07)" text-anchor="middle" font-size="7.9" font-weight="bold" fill="#000" stroke="#000" stroke-width="0.3">Duty Cycle (DDPG)</text>
<text transform="translate(306.1,147.55) scale(1,1.04) rotate(-90)" text-anchor="middle" font-size="7.7" fill="#333" stroke="#333" stroke-width="0.25">Duty Cycle (D)</text>
</g>
<g>
<line x1="60.64" y1="214.6" x2="60.64" y2="278.6" stroke="#e6e6e6" stroke-width="0.7"/>
<line x1="88.08" y1="214.6" x2="88.08" y2="278.6" stroke="#e6e6e6" stroke-width="0.7"/>
<line x1="115.51" y1="214.6" x2="115.51" y2="278.6" stroke="#e6e6e6" stroke-width="0.7"/>
<line x1="142.95" y1="214.6" x2="142.95" y2="278.6" stroke="#e6e6e6" stroke-width="0.7"/>
<line x1="170.39" y1="214.6" x2="170.39" y2="278.6" stroke="#e6e6e6" stroke-width="0.7"/>
<line x1="197.82" y1="214.6" x2="197.82" y2="278.6" stroke="#e6e6e6" stroke-width="0.7"/>
<line x1="225.26" y1="214.6" x2="225.26" y2="278.6" stroke="#e6e6e6" stroke-width="0.7"/>
<line x1="33.2" y1="257.27" x2="252.7" y2="257.27" stroke="#efefef" stroke-width="0.7"/>
<line x1="33.2" y1="235.93" x2="252.7" y2="235.93" stroke="#efefef" stroke-width="0.7"/>
<path d="M33.2 278.6V214.6H252.7" fill="none" stroke="#5a5a5a" stroke-width="0.9"/>
<path d="M32.8 278.6H252.7V214.6" fill="none" stroke="#3a3a3a" stroke-width="0.9"/>
<line x1="60.64" y1="278.6" x2="60.64" y2="276.4" stroke="#555" stroke-width="0.8"/>
<line x1="60.64" y1="214.6" x2="60.64" y2="216.8" stroke="#555" stroke-width="0.8"/>
<line x1="88.08" y1="278.6" x2="88.08" y2="276.4" stroke="#555" stroke-width="0.8"/>
<line x1="88.08" y1="214.6" x2="88.08" y2="216.8" stroke="#555" stroke-width="0.8"/>
<line x1="115.51" y1="278.6" x2="115.51" y2="276.4" stroke="#555" stroke-width="0.8"/>
<line x1="115.51" y1="214.6" x2="115.51" y2="216.8" stroke="#555" stroke-width="0.8"/>
<line x1="142.95" y1="278.6" x2="142.95" y2="276.4" stroke="#555" stroke-width="0.8"/>
<line x1="142.95" y1="214.6" x2="142.95" y2="216.8" stroke="#555" stroke-width="0.8"/>
<line x1="170.39" y1="278.6" x2="170.39" y2="276.4" stroke="#555" stroke-width="0.8"/>
<line x1="170.39" y1="214.6" x2="170.39" y2="216.8" stroke="#555" stroke-width="0.8"/>
<line x1="197.82" y1="278.6" x2="197.82" y2="276.4" stroke="#555" stroke-width="0.8"/>
<line x1="197.82" y1="214.6" x2="197.82" y2="216.8" stroke="#555" stroke-width="0.8"/>
<line x1="225.26" y1="278.6" x2="225.26" y2="276.4" stroke="#555" stroke-width="0.8"/>
<line x1="225.26" y1="214.6" x2="225.26" y2="216.8" stroke="#555" stroke-width="0.8"/>
<line x1="33.2" y1="257.27" x2="35.4" y2="257.27" stroke="#555" stroke-width="0.8"/>
<line x1="252.7" y1="257.27" x2="250.5" y2="257.27" stroke="#555" stroke-width="0.8"/>
<line x1="33.2" y1="235.93" x2="35.4" y2="235.93" stroke="#555" stroke-width="0.8"/>
<line x1="252.7" y1="235.93" x2="250.5" y2="235.93" stroke="#555" stroke-width="0.8"/>
<polygon points="33.0,235 35.4,235 35.4,251 33.9,278.4 33.3,278.4" fill="#4dff4d"/>
<polyline points="33.4,278.4 33.3,236" fill="none" stroke="#00ff00" stroke-width="0.8" stroke-linejoin="round" stroke-linecap="butt"/>
<polyline points="33.8,278.2 35.5,251" fill="none" stroke="#00ff00" stroke-width="0.8" stroke-linejoin="round" stroke-linecap="butt"/>
<polygon points="35.2,235.1 46.92,235.1 46.92,250.9 35.4,250.9" fill="#00ff00" stroke="#00ff00" stroke-width="0.5" stroke-linejoin="round"/>
<rect x="46.92" y="239.6" width="2" height="8.6" fill="#66ff66"/>
<polygon points="48.52,239.5 60.64,239.5 60.64,248.5 48.52,248.5" fill="#00ff00" stroke="#00ff00" stroke-width="0.5" stroke-linejoin="round"/>
<polygon points="60.64,243.8 74.36,243.8 74.36,248.3 60.64,248.3" fill="#00ff00" stroke="#00ff00" stroke-width="0.5" stroke-linejoin="round"/>
<polyline points="74.36,250.8 74.36,232" fill="none" stroke="#00ff00" stroke-width="1.2" stroke-linejoin="round" stroke-linecap="butt"/>
<polygon points="74.36,231.5 88.08,231.5 108.38,234.5 142.95,240.2 149.81,240.8 159.41,240.5 197.82,236.2 223.62,233.6 233.49,232.9 253.1,233 253.1,236.9 233.49,237.4 223.62,239 223.62,250.5 176.42,248.8 176.42,245.6 158.86,245.6 158.86,247.3 140.21,247 129.23,248.2 115.51,249.6 108.38,250.6 108.38,237.8 88.08,235.2 74.36,235.5" fill="#00ff00" stroke="#00ff00" stroke-width="0.5" stroke-linejoin="round"/>
<rect x="159.46" y="245" width="1" height="3.7" fill="#00ff00"/><rect x="161.38" y="245" width="1" height="3.7" fill="#00ff00"/><rect x="163.3" y="245" width="1" height="3.7" fill="#00ff00"/><rect x="165.22" y="245" width="1" height="3.7" fill="#00ff00"/><rect x="167.14" y="245" width="1" height="3.7" fill="#00ff00"/><rect x="169.06" y="245" width="1" height="3.7" fill="#00ff00"/><rect x="170.99" y="245" width="1" height="3.7" fill="#00ff00"/><rect x="172.91" y="245" width="1" height="3.7" fill="#00ff00"/><rect x="174.83" y="245" width="1" height="3.7" fill="#00ff00"/>
<text transform="translate(32.8,288.5) scale(1,1.0)" text-anchor="middle" font-size="7.2" fill="#333" stroke="#333" stroke-width="0.25">0</text>
<text transform="translate(60.24,288.5) scale(1,1.0)" text-anchor="middle" font-size="7.2" fill="#333" stroke="#333" stroke-width="0.25">1</text>
<text transform="translate(87.67,288.5) scale(1,1.0)" text-anchor="middle" font-size="7.2" fill="#333" stroke="#333" stroke-width="0.25">2</text>
<text transform="translate(115.11,288.5) scale(1,1.0)" text-anchor="middle" font-size="7.2" fill="#333" stroke="#333" stroke-width="0.25">3</text>
<text transform="translate(142.55,288.5) scale(1,1.0)" text-anchor="middle" font-size="7.2" fill="#333" stroke="#333" stroke-width="0.25">4</text>
<text transform="translate(169.99,288.5) scale(1,1.0)" text-anchor="middle" font-size="7.2" fill="#333" stroke="#333" stroke-width="0.25">5</text>
<text transform="translate(197.42,288.5) scale(1,1.0)" text-anchor="middle" font-size="7.2" fill="#333" stroke="#333" stroke-width="0.25">6</text>
<text transform="translate(224.86,288.5) scale(1,1.0)" text-anchor="middle" font-size="7.2" fill="#333" stroke="#333" stroke-width="0.25">7</text>
<text transform="translate(252.3,288.5) scale(1,1.0)" text-anchor="middle" font-size="7.2" fill="#333" stroke="#333" stroke-width="0.25">8</text>
<text transform="translate(31,281.2) scale(1,1.0)" text-anchor="end" font-size="7.2" fill="#333" stroke="#333" stroke-width="0.25">600</text>
<text transform="translate(31,259.87) scale(1,1.0)" text-anchor="end" font-size="7.2" fill="#333" stroke="#333" stroke-width="0.25">800</text>
<text transform="translate(31,238.53) scale(1,1.0)" text-anchor="end" font-size="7.2" fill="#333" stroke="#333" stroke-width="0.25">1000</text>
<text transform="translate(31,217.2) scale(1,1.0)" text-anchor="end" font-size="7.2" fill="#333" stroke="#333" stroke-width="0.25">1200</text>
<text transform="translate(142.65,299.05) scale(1,1.03)" text-anchor="middle" font-size="7.8" fill="#333" stroke="#333" stroke-width="0.25">Time (s)</text>
<text transform="translate(142.95,211.5) scale(1,1.07)" text-anchor="middle" font-size="7.9" font-weight="bold" fill="#000" stroke="#000" stroke-width="0.3">PV Power (P&amp;O)</text>
<text transform="translate(10.9,247) scale(1,1.02) rotate(-90)" text-anchor="middle" font-size="7.7" fill="#333" stroke="#333" stroke-width="0.25">Output Power (W)</text>
</g>
<g>
<line x1="349.6" y1="214.6" x2="349.6" y2="278.6" stroke="#e6e6e6" stroke-width="0.7"/>
<line x1="377" y1="214.6" x2="377" y2="278.6" stroke="#e6e6e6" stroke-width="0.7"/>
<line x1="404.4" y1="214.6" x2="404.4" y2="278.6" stroke="#e6e6e6" stroke-width="0.7"/>
<line x1="431.8" y1="214.6" x2="431.8" y2="278.6" stroke="#e6e6e6" stroke-width="0.7"/>
<line x1="459.2" y1="214.6" x2="459.2" y2="278.6" stroke="#e6e6e6" stroke-width="0.7"/>
<line x1="486.6" y1="214.6" x2="486.6" y2="278.6" stroke="#e6e6e6" stroke-width="0.7"/>
<line x1="514" y1="214.6" x2="514" y2="278.6" stroke="#e6e6e6" stroke-width="0.7"/>
<line x1="322.2" y1="257.27" x2="541.4" y2="257.27" stroke="#efefef" stroke-width="0.7"/>
<line x1="322.2" y1="235.93" x2="541.4" y2="235.93" stroke="#efefef" stroke-width="0.7"/>
<path d="M322.2 278.6V214.6H541.4" fill="none" stroke="#5a5a5a" stroke-width="0.9"/>
<path d="M321.8 278.6H541.4V214.6" fill="none" stroke="#3a3a3a" stroke-width="0.9"/>
<line x1="349.6" y1="278.6" x2="349.6" y2="276.4" stroke="#555" stroke-width="0.8"/>
<line x1="349.6" y1="214.6" x2="349.6" y2="216.8" stroke="#555" stroke-width="0.8"/>
<line x1="377" y1="278.6" x2="377" y2="276.4" stroke="#555" stroke-width="0.8"/>
<line x1="377" y1="214.6" x2="377" y2="216.8" stroke="#555" stroke-width="0.8"/>
<line x1="404.4" y1="278.6" x2="404.4" y2="276.4" stroke="#555" stroke-width="0.8"/>
<line x1="404.4" y1="214.6" x2="404.4" y2="216.8" stroke="#555" stroke-width="0.8"/>
<line x1="431.8" y1="278.6" x2="431.8" y2="276.4" stroke="#555" stroke-width="0.8"/>
<line x1="431.8" y1="214.6" x2="431.8" y2="216.8" stroke="#555" stroke-width="0.8"/>
<line x1="459.2" y1="278.6" x2="459.2" y2="276.4" stroke="#555" stroke-width="0.8"/>
<line x1="459.2" y1="214.6" x2="459.2" y2="216.8" stroke="#555" stroke-width="0.8"/>
<line x1="486.6" y1="278.6" x2="486.6" y2="276.4" stroke="#555" stroke-width="0.8"/>
<line x1="486.6" y1="214.6" x2="486.6" y2="216.8" stroke="#555" stroke-width="0.8"/>
<line x1="514" y1="278.6" x2="514" y2="276.4" stroke="#555" stroke-width="0.8"/>
<line x1="514" y1="214.6" x2="514" y2="216.8" stroke="#555" stroke-width="0.8"/>
<line x1="322.2" y1="257.27" x2="324.4" y2="257.27" stroke="#555" stroke-width="0.8"/>
<line x1="541.4" y1="257.27" x2="539.2" y2="257.27" stroke="#555" stroke-width="0.8"/>
<line x1="322.2" y1="235.93" x2="324.4" y2="235.93" stroke="#555" stroke-width="0.8"/>
<line x1="541.4" y1="235.93" x2="539.2" y2="235.93" stroke="#555" stroke-width="0.8"/>
<polyline points="322.5,278.6 323.3,262 324.8,240" fill="none" stroke="#00ff00" stroke-width="1.2" stroke-linejoin="round" stroke-linecap="butt"/>
<rect x="334.53" y="227.2" width="3" height="13.1" fill="#7aff7a"/>
<polygon points="324.8,227.2 335.35,227.2 335.35,240.3 324.8,240.3" fill="#00ff00" stroke="#00ff00" stroke-width="0.5" stroke-linejoin="round"/>
<polyline points="336,240 336,253.8" fill="none" stroke="#00ff00" stroke-width="1.4" stroke-linejoin="round" stroke-linecap="butt"/>
<polygon points="337,227.2 363.99,227.2 363.99,240.3 337,240.3" fill="#00ff00" stroke="#00ff00" stroke-width="0.5" stroke-linejoin="round"/>
<polygon points="363.99,233 397.69,233 397.69,246.8 363.99,246.8" fill="#00ff00" stroke="#00ff00" stroke-width="0.5" stroke-linejoin="round"/>
<polygon points="397.69,227.2 510.71,227.2 510.71,240.3 397.69,240.3" fill="#00ff00" stroke="#00ff00" stroke-width="0.5" stroke-linejoin="round"/>
<polygon points="510.71,233 541.8,233 541.8,246.8 510.71,246.8" fill="#00ff00" stroke="#00ff00" stroke-width="0.5" stroke-linejoin="round"/>
<text transform="translate(321.8,288.5) scale(1,1.0)" text-anchor="middle" font-size="7.2" fill="#333" stroke="#333" stroke-width="0.25">0</text>
<text transform="translate(349.2,288.5) scale(1,1.0)" text-anchor="middle" font-size="7.2" fill="#333" stroke="#333" stroke-width="0.25">1</text>
<text transform="translate(376.6,288.5) scale(1,1.0)" text-anchor="middle" font-size="7.2" fill="#333" stroke="#333" stroke-width="0.25">2</text>
<text transform="translate(404,288.5) scale(1,1.0)" text-anchor="middle" font-size="7.2" fill="#333" stroke="#333" stroke-width="0.25">3</text>
<text transform="translate(431.4,288.5) scale(1,1.0)" text-anchor="middle" font-size="7.2" fill="#333" stroke="#333" stroke-width="0.25">4</text>
<text transform="translate(458.8,288.5) scale(1,1.0)" text-anchor="middle" font-size="7.2" fill="#333" stroke="#333" stroke-width="0.25">5</text>
<text transform="translate(486.2,288.5) scale(1,1.0)" text-anchor="middle" font-size="7.2" fill="#333" stroke="#333" stroke-width="0.25">6</text>
<text transform="translate(513.6,288.5) scale(1,1.0)" text-anchor="middle" font-size="7.2" fill="#333" stroke="#333" stroke-width="0.25">7</text>
<text transform="translate(541,288.5) scale(1,1.0)" text-anchor="middle" font-size="7.2" fill="#333" stroke="#333" stroke-width="0.25">8</text>
<text transform="translate(320,281.2) scale(1,1.0)" text-anchor="end" font-size="7.2" fill="#333" stroke="#333" stroke-width="0.25">0.3</text>
<text transform="translate(320,259.87) scale(1,1.0)" text-anchor="end" font-size="7.2" fill="#333" stroke="#333" stroke-width="0.25">0.4</text>
<text transform="translate(320,238.53) scale(1,1.0)" text-anchor="end" font-size="7.2" fill="#333" stroke="#333" stroke-width="0.25">0.5</text>
<text transform="translate(320,217.2) scale(1,1.0)" text-anchor="end" font-size="7.2" fill="#333" stroke="#333" stroke-width="0.25">0.6</text>
<text transform="translate(431.5,299.05) scale(1,1.03)" text-anchor="middle" font-size="7.8" fill="#333" stroke="#333" stroke-width="0.25">Time (s)</text>
<text transform="translate(431.8,211.5) scale(1,1.07)" text-anchor="middle" font-size="7.9" font-weight="bold" fill="#000" stroke="#000" stroke-width="0.3">Duty Cycle (P&amp;O)</text>
<text transform="translate(306.1,246.6) scale(1,1.04) rotate(-90)" text-anchor="middle" font-size="7.7" fill="#333" stroke="#333" stroke-width="0.25">Duty Cycle (D)</text>
</g>
</svg>
</body></html>
